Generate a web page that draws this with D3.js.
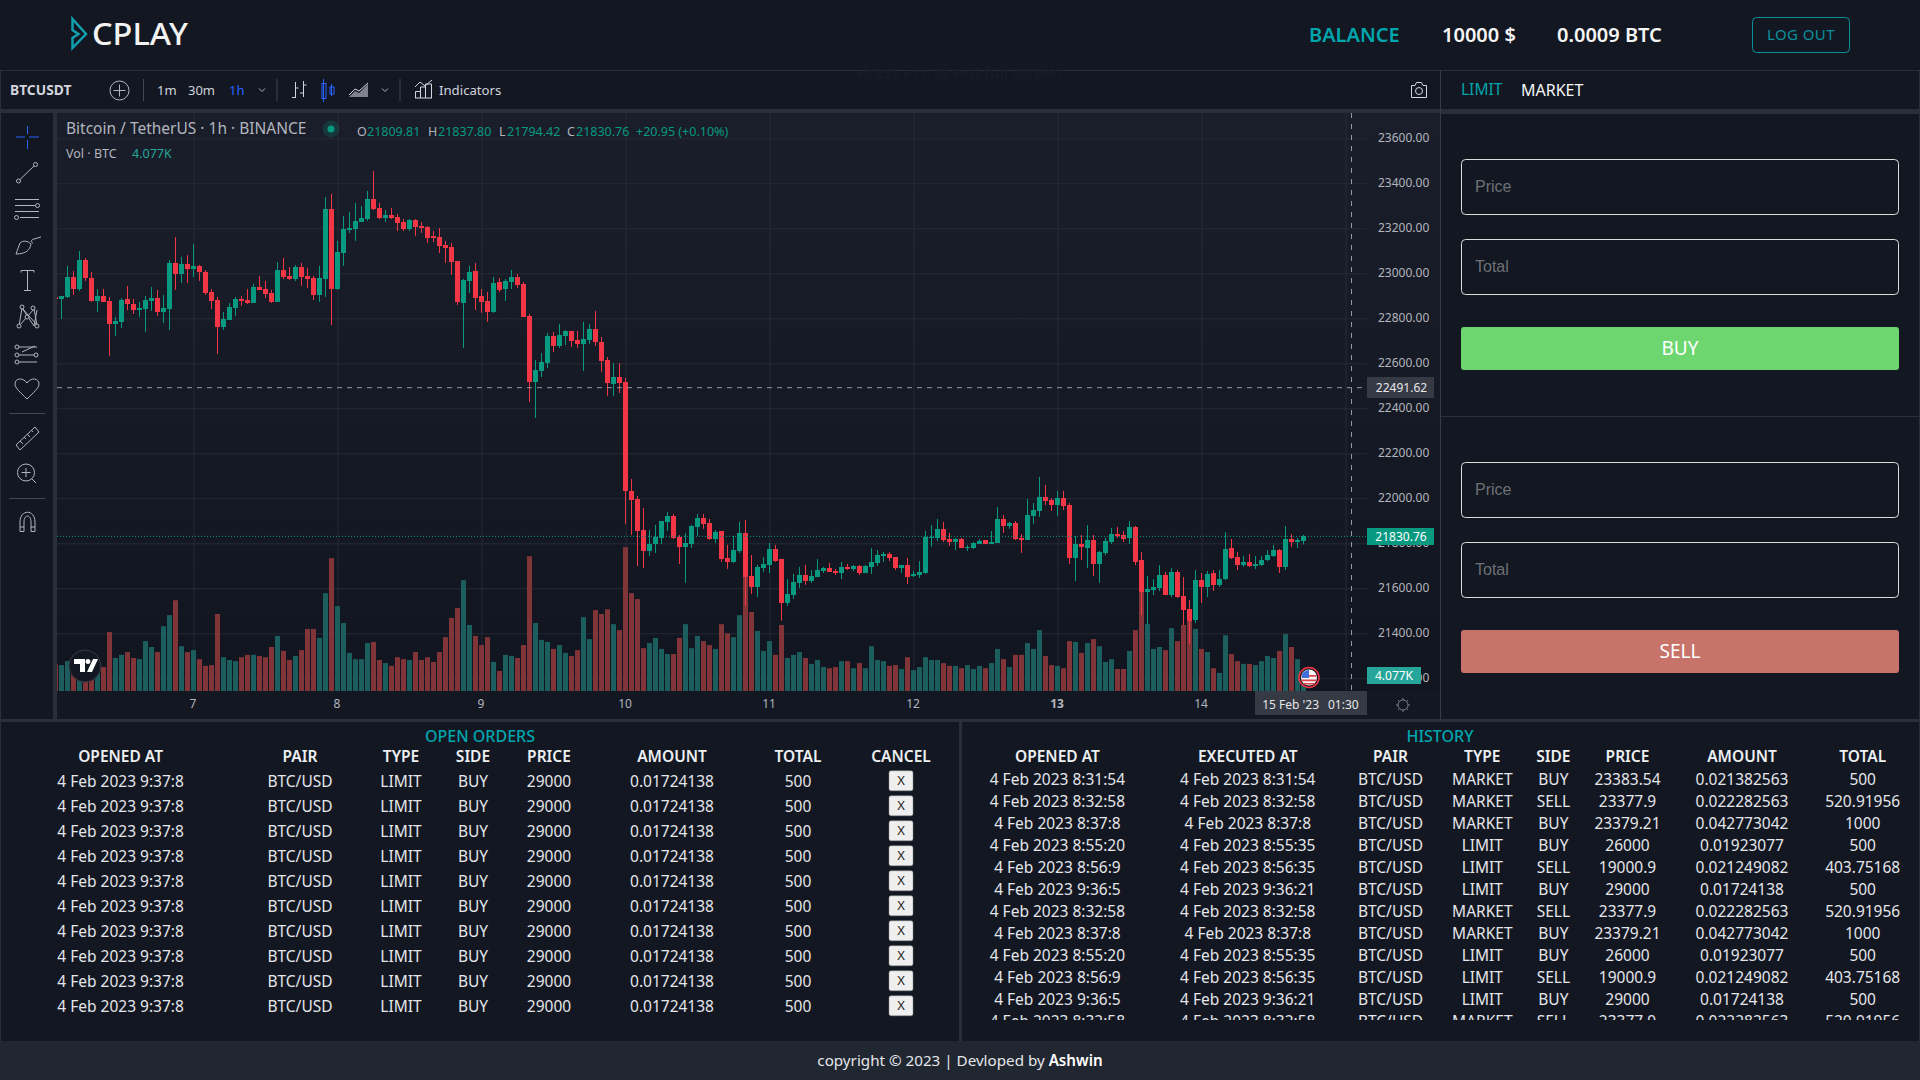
<!DOCTYPE html>
<html>
<head>
<meta charset="utf-8">
<title>CPLAY</title>
<script src="https://cdn.jsdelivr.net/npm/d3@7"></script>
<style>
  html, body { margin: 0; padding: 0; background: #131722; overflow: hidden; }
  svg { display: block; }
  text { font-family: "Noto Sans", sans-serif; }
</style>
</head>
<body>
<div id="canvas"></div>
<script>
// candles, one per hour
const opens = [
  22895,22886,22895,22984,22930,23059,22979,22877,22899,22877,
  22775,22784,22886,22864,22837,22841,22877,22890,22828,22841,
  23046,22997,23041,23019,23033,23006,22917,22881,22761,22793,
  22846,22886,22881,22868,22939,22930,22913,22873,23015,22988,
  22975,23028,22988,22979,22904,22975,23286,22930,23090,23193,
  23197,23228,23241,23330,23290,23246,23259,23250,23228,23197,
  23237,23210,23206,23166,23161,23126,23117,23055,22868,22966,
  23010,22899,22877,22828,22961,22930,22961,22984,22953,22810,
  22517,22566,22601,22721,22677,22721,22744,22704,22686,22704,
  22753,22695,22615,22508,22539,22517,22033,21997,21859,21766,
  21797,21824,21895,21921,21828,21784,21797,21873,21913,21890,
  21819,21855,21735,21717,21766,21846,21655,21606,21690,21704,
  21775,21730,21535,21570,21624,21659,21633,21650,21677,21690,
  21677,21668,21695,21686,21699,21668,21695,21713,21744,21753,
  21739,21690,21704,21655,21659,21668,21824,21824,21864,21819,
  21806,21819,21779,21779,21797,21815,21797,21801,21908,21877,
  21890,21824,21815,21921,21944,22006,21993,21970,22001,21970,
  21735,21797,21779,21815,21708,21757,21806,21841,21837,21824,
  21873,21726,21584,21593,21601,21659,21570,21673,21566,21508,
  21459,21637,21606,21668,21615,21641,21779,21739,21703,21717,
  21699,21703,21726,21744,21770,21695,21819,21806,21809.81
];
const highs = [
  22895,22899,23033,23010,23099,23068,23006,22930,22930,22895,
  22806,22890,22944,22886,22873,22899,22939,22926,22904,23059,
  23161,23073,23081,23130,23037,23015,22930,22895,22828,22868,
  22895,22899,22930,22953,22988,22966,22926,23050,23068,23028,
  23037,23046,23024,22988,23033,23339,23353,23144,23255,23273,
  23313,23299,23366,23455,23313,23281,23290,23264,23241,23241,
  23241,23228,23210,23188,23201,23144,23135,23055,22975,23033,
  23046,22930,22917,22984,22979,22975,23015,22997,22961,22819,
  22615,22646,22735,22739,22775,22748,22744,22744,22784,22775,
  22833,22717,22628,22601,22601,22535,22086,22010,21957,21859,
  21882,21899,21939,21930,21837,21846,21882,21930,21930,21908,
  21859,21855,21793,21833,21895,21904,21748,21704,21739,21802,
  21793,21730,21641,21664,21695,21704,21681,21730,21695,21713,
  21686,21717,21708,21704,21704,21704,21779,21770,21761,21761,
  21739,21704,21735,21677,21721,21855,21881,21908,21895,21846,
  21824,21824,21793,21806,21819,21815,21855,21961,21926,21895,
  21899,21841,21997,21979,22095,22059,22001,22033,22033,21979,
  21833,21837,21881,21837,21766,21824,21868,21873,21855,21899,
  21877,21761,21655,21641,21703,21673,21690,21681,21650,21548,
  21681,21668,21677,21681,21681,21850,21819,21761,21744,21753,
  21744,21744,21770,21793,21775,21877,21841,21824,21837.8
];
const lows = [
  22886,22797,22890,22904,22921,22966,22873,22828,22873,22633,
  22721,22757,22837,22819,22806,22739,22833,22810,22779,22748,
  22926,22957,22957,22984,22966,22904,22841,22641,22748,22793,
  22810,22855,22864,22868,22926,22890,22868,22873,22975,22970,
  22966,22944,22935,22881,22873,22895,22770,22926,23033,23179,
  23144,23228,23233,23281,23241,23228,23241,23188,23188,23188,
  23166,23179,23135,23139,23090,23046,22993,22859,22668,22913,
  22837,22824,22784,22824,22917,22877,22930,22935,22806,22428,
  22357,22539,22579,22650,22668,22681,22673,22668,22566,22686,
  22677,22561,22455,22455,22468,21886,21837,21699,21690,21744,
  21757,21797,21855,21819,21708,21624,21779,21833,21864,21815,
  21802,21717,21686,21713,21757,21522,21575,21561,21673,21668,
  21717,21456,21522,21553,21602,21615,21624,21650,21668,21673,
  21659,21641,21681,21677,21659,21668,21664,21699,21717,21721,
  21681,21668,21619,21650,21646,21664,21784,21810,21806,21788,
  21770,21779,21766,21775,21797,21797,21797,21801,21846,21864,
  21815,21757,21815,21886,21917,21970,21944,21921,21948,21708,
  21632,21726,21690,21655,21624,21748,21797,21824,21806,21797,
  21703,21481,21437,21570,21588,21570,21561,21557,21437,21353,
  21446,21535,21561,21588,21606,21637,21730,21681,21695,21695,
  21686,21699,21721,21739,21668,21681,21784,21779,21794.42
];
const closes = [
  22886,22899,22984,22930,23059,22979,22877,22899,22873,22775,
  22788,22881,22864,22837,22846,22881,22890,22828,22846,23046,
  22997,23041,23019,23033,23006,22913,22877,22761,22797,22850,
  22886,22877,22868,22939,22926,22908,22873,23015,22984,22975,
  23028,22984,22975,22904,22979,23286,22930,23095,23197,23201,
  23233,23246,23330,23286,23246,23259,23246,23224,23197,23237,
  23206,23201,23157,23157,23121,23113,23050,22873,22970,23006,
  22890,22873,22828,22957,22926,22966,22984,22948,22806,22517,
  22570,22606,22721,22677,22726,22744,22699,22686,22708,22753,
  22695,22610,22513,22539,22513,22033,21993,21855,21766,21797,
  21828,21899,21921,21824,21784,21802,21877,21913,21886,21819,
  21850,21730,21717,21770,21846,21650,21606,21695,21708,21775,
  21721,21535,21575,21628,21659,21633,21655,21681,21690,21673,
  21668,21695,21686,21699,21668,21699,21717,21748,21753,21735,
  21690,21704,21650,21664,21673,21828,21828,21864,21815,21806,
  21819,21779,21784,21801,21810,21797,21806,21908,21877,21890,
  21819,21815,21926,21948,22006,21988,21970,22001,21966,21735,
  21797,21784,21815,21708,21761,21810,21841,21833,21819,21873,
  21717,21584,21597,21606,21659,21570,21673,21561,21504,21455,
  21637,21606,21664,21615,21641,21775,21735,21703,21717,21699,
  21708,21726,21748,21770,21695,21819,21806,21815,21830.76
];
// volume in thousands of BTC
const volumes = [
  6.8,6.6,7.6,4.7,6.6,4.3,3.2,5.8,6.1,15.0,
  8.4,9.2,9.9,8.4,8.1,12.7,11.2,9.9,16.5,19.3,
  23.1,11.4,9.9,10.4,8.1,6.4,6.6,19.6,8.6,7.9,
  7.6,8.6,9.2,9.2,8.9,8.6,11.2,14.0,10.2,7.9,
  8.9,10.4,15.8,15.8,13.5,24.9,33.8,21.6,17.3,9.7,
  8.1,8.1,12.2,12.5,7.9,7.1,6.4,8.6,8.1,7.9,
  9.9,7.9,8.6,7.4,9.9,13.7,18.6,21.1,28.2,16.8,
  14.0,11.7,13.7,7.4,5.1,9.2,8.9,8.4,11.7,34.3,
  17.3,13.0,12.5,10.7,11.7,9.7,8.9,10.4,18.8,13.2,
  20.6,19.6,20.8,17.0,15.5,36.6,24.9,23.4,10.9,12.2,
  13.5,10.7,9.4,9.4,13.5,17.0,10.9,14.0,12.7,11.7,
  10.7,17.0,14.7,13.7,19.3,29.0,20.1,15.3,10.2,12.7,
  9.2,16.8,8.4,9.2,9.9,8.4,6.9,7.9,6.1,5.8,
  6.1,7.6,7.6,5.8,7.1,5.8,11.4,7.9,7.6,6.4,
  6.6,5.6,8.6,5.3,6.1,8.6,7.9,7.9,7.1,6.4,
  6.4,5.8,6.6,5.6,6.4,5.8,7.1,10.7,8.1,6.1,
  9.2,9.2,12.2,10.7,15.5,8.9,6.6,6.4,5.8,12.7,
  12.5,9.7,12.2,13.2,11.4,7.4,8.1,5.6,5.6,10.2,
  15.5,25.2,17.0,10.7,11.2,10.4,16.0,12.7,16.8,18.1,
  15.8,10.7,9.9,5.8,4.6,14.2,9.4,7.6,6.9,6.9,
  6.6,7.6,8.9,8.4,10.2,14.5,11.2,8.1,4.077
];

const priceTicks = [21200,21400,21600,21800,22000,22200,22400,22600,22800,23000,23200,23400,23600];
const dayIndex = [23,47,71,95,119,143,167,191,215];
const dayLabels = ['7','8','9','10','11','12','13','14',''];
const crosshairPrice = 22491.62;
const lastPrice = 21830.76;

const orderColumns = ['OPENED AT','PAIR','TYPE','SIDE','PRICE','AMOUNT','TOTAL'];
const orderRow = ['4 Feb 2023 9:37:8','BTC/USD','LIMIT','BUY','29000','0.01724138','500'];
const orderCount = 10;

const historyColumns = ['OPENED AT','EXECUTED AT','PAIR','TYPE','SIDE','PRICE','AMOUNT','TOTAL'];
const historyRows = [
  ['4 Feb 2023 8:31:54','4 Feb 2023 8:31:54','BTC/USD','MARKET','BUY','23383.54','0.021382563','500'],
  ['4 Feb 2023 8:32:58','4 Feb 2023 8:32:58','BTC/USD','MARKET','SELL','23377.9','0.022282563','520.91956'],
  ['4 Feb 2023 8:37:8','4 Feb 2023 8:37:8','BTC/USD','MARKET','BUY','23379.21','0.042773042','1000'],
  ['4 Feb 2023 8:55:20','4 Feb 2023 8:55:35','BTC/USD','LIMIT','BUY','26000','0.01923077','500'],
  ['4 Feb 2023 8:56:9','4 Feb 2023 8:56:35','BTC/USD','LIMIT','SELL','19000.9','0.021249082','403.75168'],
  ['4 Feb 2023 9:36:5','4 Feb 2023 9:36:21','BTC/USD','LIMIT','BUY','29000','0.01724138','500'],
  ['4 Feb 2023 8:32:58','4 Feb 2023 8:32:58','BTC/USD','MARKET','SELL','23377.9','0.022282563','520.91956'],
  ['4 Feb 2023 8:37:8','4 Feb 2023 8:37:8','BTC/USD','MARKET','BUY','23379.21','0.042773042','1000'],
  ['4 Feb 2023 8:55:20','4 Feb 2023 8:55:35','BTC/USD','LIMIT','BUY','26000','0.01923077','500'],
  ['4 Feb 2023 8:56:9','4 Feb 2023 8:56:35','BTC/USD','LIMIT','SELL','19000.9','0.021249082','403.75168'],
  ['4 Feb 2023 9:36:5','4 Feb 2023 9:36:21','BTC/USD','LIMIT','BUY','29000','0.01724138','500'],
  ['4 Feb 2023 8:32:58','4 Feb 2023 8:32:58','BTC/USD','MARKET','SELL','23377.9','0.022282563','520.91956']
];

const bg = '#131722', line = '#2a2e39', teal = '#00a6ad', soft = '#b2b5be';
const upColor = '#089981', downColor = '#f23645';

const svg = d3.select('#canvas').append('svg').attr('width', 1920).attr('height', 1080);
const defs = svg.append('defs');

const paneGrad = defs.append('linearGradient').attr('id', 'paneGrad').attr('x1', 0).attr('x2', 0).attr('y1', 0).attr('y2', 1);
paneGrad.append('stop').attr('offset', 0).attr('stop-color', '#1a1e2a');
paneGrad.append('stop').attr('offset', 1).attr('stop-color', '#11151f');
defs.append('clipPath').attr('id', 'paneClip').append('rect').attr('x', 57).attr('y', 113).attr('width', 1310).attr('height', 578);
defs.append('clipPath').attr('id', 'histClip').append('rect').attr('x', 962).attr('y', 722).attr('width', 958).attr('height', 298);

function rect(g, x, y, w, h, fill, extra) {
  const r = g.append('rect').attr('x', x).attr('y', y).attr('width', w).attr('height', h).attr('fill', fill);
  Object.entries(extra || {}).forEach(([k, v]) => r.attr(k, v));
  return r;
}
function label(g, x, y, str, size, color, extra) {
  const t = g.append('text').attr('x', x).attr('y', y).attr('dy', '0.35em')
    .attr('font-size', size).attr('fill', color).text(str);
  Object.entries(extra || {}).forEach(([k, v]) => t.attr(k, v));
  return t;
}
function icon(g, d, color, width) {
  return g.append('path').attr('d', d).attr('fill', 'none')
    .attr('stroke', color || soft).attr('stroke-width', width || 1);
}

// page background and panel frames
rect(svg, 0, 0, 1920, 1080, bg);
rect(svg, 0, 70, 1920, 1, line);
rect(svg, 0, 109, 1920, 4, line);
rect(svg, 53, 113, 4, 607, line);
rect(svg, 0, 719, 1920, 3, line);
rect(svg, 1440, 70, 1, 650, '#363a45');
rect(svg, 0, 70, 1, 1000, line);
rect(svg, 1919, 70, 1, 1000, line);
rect(svg, 959, 722, 3, 320, line);
rect(svg, 1441, 416, 479, 1, line);
rect(svg, 0, 1041, 1920, 39, '#212731');

// header
const header = svg.append('g');
header.append('path').attr('d', 'M72.5 19 L86 34 L72.5 48 V38 L78.5 34 L72.5 30 Z')
  .attr('fill', 'none').attr('stroke', '#12a0ac').attr('stroke-width', 2.5);
label(header, 92, 34.5, 'CPLAY', 31, '#f2f2f2', { 'font-weight': 500, textLength: 96, lengthAdjust: 'spacingAndGlyphs' });
label(header, 1309, 34.5, 'BALANCE', 20, teal, { 'font-weight': 600 });
label(header, 1442, 34.5, '10000 $', 20, '#f5f5f5', { 'font-weight': 600 });
label(header, 1557, 34.5, '0.0009 BTC', 20, '#f5f5f5', { 'font-weight': 600 });
rect(header, 1752.5, 17.5, 97, 35, 'none', { stroke: '#0b8f9a', rx: 4 });
label(header, 1801, 35, 'LOG OUT', 15, '#0b8f9a', { 'text-anchor': 'middle', 'letter-spacing': '0.4px' });
label(header, 960, 72, 'Press   F11   to exit full screen', 16, '#181c27', { 'text-anchor': 'middle' });

// chart toolbar
const bar = svg.append('g');
label(bar, 10, 90, 'BTCUSDT', 13.8, '#d1d4dc', { 'font-weight': 700 });
bar.append('circle').attr('cx', 119.5).attr('cy', 90.5).attr('r', 9.5).attr('fill', 'none').attr('stroke', soft);
icon(bar, 'M113.5 90.5H125.5M119.5 84.5V96.5', soft);
[143, 276.5, 399.5].forEach(x => rect(bar, x, 79, 1, 22, '#434651'));
label(bar, 157, 90, '1m', 13, '#d1d4dc');
label(bar, 188, 90, '30m', 13, '#d1d4dc');
label(bar, 229, 90, '1h', 13, '#2962ff');
icon(bar, 'M259 88.5L262 91.5L265 88.5', soft);
icon(bar, 'M382 88.5L385 91.5L388 88.5', soft);
icon(bar, 'M295.5 82V98M292 97.5H295.5M295.5 88H298.5M303.5 81V97M300 93H303.5M303.5 85H306.5', '#d1d4dc');
icon(bar, 'M323.5 79V102M331.5 84V96', '#2962ff');
rect(bar, 322, 83.5, 4, 15, 'none', { stroke: '#2962ff' });
rect(bar, 330, 87, 4, 7, 'none', { stroke: '#2962ff' });
bar.append('path').attr('d', 'M349 97L355 91L359 93L368 84V97Z').attr('fill', '#7f828c');
icon(bar, 'M349 95L355 89L359 91L368 83', '#d1d4dc');
icon(bar, 'M415.5 98V91.5H420.5V98M420.5 98V87H425.5V98M425.5 98V84H431.5V98M415 98H432M415 87L420 82L425 86L432 80', '#d1d4dc');
label(bar, 439, 90, 'Indicators', 13.2, '#d1d4dc');
icon(bar, 'M1411.5 85.5H1415L1416.5 82.5H1421.5L1423 85.5H1426.5V97.5H1411.5Z', '#d1d4dc');
bar.append('circle').attr('cx', 1419).attr('cy', 91).attr('r', 3.5).attr('fill', 'none').attr('stroke', '#d1d4dc');

// drawing tools on the left
const tools = svg.append('g');
icon(tools, 'M16 137H25M29 137H39M27.5 126V134M27.5 140V149', '#2962ff');
icon(tools, 'M20 179.5L34 166', soft);
tools.append('circle').attr('cx', 18.5).attr('cy', 181).attr('r', 2).attr('fill', 'none').attr('stroke', soft);
tools.append('circle').attr('cx', 35.5).attr('cy', 164.5).attr('r', 2).attr('fill', 'none').attr('stroke', soft);
icon(tools, 'M15 199.5H39M15 205.5H35M15 211.5H39M20 217.5H39', soft);
tools.append('circle').attr('cx', 37.5).attr('cy', 205.5).attr('r', 2).attr('fill', 'none').attr('stroke', soft);
tools.append('circle').attr('cx', 16.5).attr('cy', 217.5).attr('r', 2).attr('fill', 'none').attr('stroke', soft);
icon(tools, 'M16 254L20 243C23 240 28 241 31 244C30 250 26 254 16 254ZM33 243C30 242 31 240 34 239L41 237', soft);
icon(tools, 'M21 272.5V270.5H34V272.5M27.5 270.5V290M24 290.5H31', soft);
icon(tools, 'M19 326L22 308L34 326L37 310M19 326L34 309L37 325M22 308L37 325', soft);
[[22,307],[33,308],[19,326],[37,326],[27,317]].forEach(p => tools.append('circle').attr('cx', p[0]).attr('cy', p[1]).attr('r', 2).attr('fill', bg).attr('stroke', soft));
icon(tools, 'M18 347H37M18 355H37M18 362H37M22 352L35 346', soft);
[[17,347],[17,355],[17,362],[36,355]].forEach(p => tools.append('circle').attr('cx', p[0]).attr('cy', p[1]).attr('r', 2).attr('fill', bg).attr('stroke', soft));
icon(tools, 'M27 399C20 392 15 388 15 384C15 378 23 377 27 383C31 377 39 378 39 384C39 388 34 392 27 399Z', soft);
rect(tools, 9, 413, 36, 1, '#434651');
icon(tools, 'M16 445L35 427L39 432L20 450ZM20 441L23 444M24 437L26 439M27 434L30 437M31 430L33 432', soft);
tools.append('circle').attr('cx', 26).attr('cy', 472.5).attr('r', 8.5).attr('fill', 'none').attr('stroke', soft);
icon(tools, 'M21.5 472.5H30.5M26 468V477M32 479L36 483', soft);
rect(tools, 9, 498, 36, 1, '#434651');
icon(tools, 'M20 531.5V522C20 509 35 509 35 522V531.5M24 531.5V522C24 514 31 514 31 522V531.5M20 527H24M31 527H35M20 531.5H24M31 531.5H35', soft);

// chart scales
const x = d3.scaleLinear().domain([0, 208]).range([55.5, 1303.5]);
const y = d3.scaleLinear().domain([21200, 23600]).range([678.3, 138.3]);
const yVol = d3.scaleLinear().domain([0, 40]).range([691, 533.8]);
const candles = opens.map((o, i) => ({ i: i, o: o, h: highs[i], l: lows[i], c: closes[i], v: volumes[i] }));

rect(svg, 57, 113, 1383, 578, 'url(#paneGrad)');
rect(svg, 1441, 113, 479, 1, line);

const pane = svg.append('g').attr('clip-path', 'url(#paneClip)');

// grid, drawn from the axis generators
pane.append('g').attr('transform', 'translate(57,0)')
  .call(d3.axisLeft(y).tickValues(priceTicks).tickSize(-1310).tickFormat(''))
  .call(g => g.select('.domain').remove())
  .selectAll('line').attr('stroke', line).attr('stroke-width', 1).attr('opacity', 0.85);
pane.append('g').attr('transform', 'translate(0,691)')
  .call(d3.axisBottom(x).tickValues(dayIndex).tickSize(-578).tickFormat(''))
  .call(g => g.select('.domain').remove())
  .selectAll('line').attr('stroke', line).attr('stroke-width', 1).attr('opacity', 0.85);

pane.selectAll('.vol').data(candles).join('rect').attr('class', 'vol')
  .attr('x', d => x(d.i) - 2.5)
  .attr('width', 5)
  .attr('y', d => yVol(d.v))
  .attr('height', d => 691 - yVol(d.v))
  .attr('fill', d => d.c >= d.o ? '#1c5e5e' : '#813538');

pane.selectAll('.wick').data(candles).join('line').attr('class', 'wick')
  .attr('x1', d => x(d.i)).attr('x2', d => x(d.i))
  .attr('y1', d => y(d.h)).attr('y2', d => y(d.l))
  .attr('stroke', d => d.c >= d.o ? upColor : downColor);

pane.selectAll('.body').data(candles).join('rect').attr('class', 'body')
  .attr('x', d => x(d.i) - 2.5)
  .attr('width', 5)
  .attr('y', d => y(Math.max(d.o, d.c)))
  .attr('height', d => Math.max(1, Math.abs(y(d.o) - y(d.c))))
  .attr('fill', d => d.c >= d.o ? upColor : downColor)
  .attr('shape-rendering', 'crispEdges');

// last price and crosshair lines
pane.append('line').attr('x1', 57).attr('x2', 1367).attr('y1', y(lastPrice)).attr('y2', y(lastPrice))
  .attr('stroke', upColor).attr('stroke-dasharray', '1 2');
pane.append('line').attr('x1', 57).attr('x2', 1367).attr('y1', y(crosshairPrice)).attr('y2', y(crosshairPrice))
  .attr('stroke', '#9598a1').attr('stroke-dasharray', '5 5');
pane.append('line').attr('x1', 1351.5).attr('x2', 1351.5).attr('y1', 113).attr('y2', 691)
  .attr('stroke', '#9598a1').attr('stroke-dasharray', '5 6');

// axis labels
const priceAxis = svg.append('g').attr('transform', 'translate(1367,0)')
  .call(d3.axisRight(y).tickValues(priceTicks).tickSize(0).tickPadding(11).tickFormat(d3.format('.2f')));
priceAxis.select('.domain').remove();
priceAxis.selectAll('text').attr('fill', soft).attr('font-size', 12).attr('dy', '0.24em')
  .attr('font-family', '"Noto Sans", sans-serif');

const timeAxis = svg.append('g').attr('transform', 'translate(-1,691)')
  .call(d3.axisBottom(x).tickValues(dayIndex).tickSize(0).tickPadding(8).tickFormat((d, i) => dayLabels[i]));
timeAxis.select('.domain').remove();
timeAxis.selectAll('text').attr('fill', soft).attr('font-size', 12).attr('font-family', '"Noto Sans", sans-serif')
  .attr('font-weight', (d, i) => dayLabels[i] === '13' ? 700 : 400);

rect(svg, 1367, 377, 67, 21, '#363a45');
label(svg, 1401.5, 387.5, d3.format('.2f')(crosshairPrice), 12, '#e6e7ea', { 'text-anchor': 'middle' });
rect(svg, 1367, 528, 67, 17, upColor);
label(svg, 1401, 536.5, d3.format('.2f')(lastPrice), 12, '#ffffff', { 'text-anchor': 'middle' });
rect(svg, 1367, 667, 54, 17, '#26a69a');
label(svg, 1394, 675.5, '4.077K', 12, '#ffffff', { 'text-anchor': 'middle' });
rect(svg, 1255, 691, 112, 24, '#363a45');
label(svg, 1319, 705, "15 Feb '23", 12, '#e6e7ea', { 'text-anchor': 'end' });
label(svg, 1328, 705, '01:30', 12, '#e6e7ea');
svg.append('circle').attr('cx', 1403).attr('cy', 705).attr('r', 5).attr('fill', 'none').attr('stroke', '#787b86');
icon(svg, 'M1403 698V700M1403 710V712M1396 705H1398M1408 705H1410M1398 700L1399.5 701.5M1406.5 708.5L1408 710M1398 710L1399.5 708.5M1406.5 701.5L1408 700', '#787b86');

// legend
const legend = svg.append('g');
label(legend, 66, 129, 'Bitcoin / TetherUS · 1h · BINANCE', 15.5, soft);
legend.append('circle').attr('cx', 331).attr('cy', 129).attr('r', 8.5).attr('fill', upColor).attr('opacity', 0.2);
legend.append('circle').attr('cx', 331).attr('cy', 129).attr('r', 3.5).attr('fill', upColor);
[['O', 357, '21809.81', 367], ['H', 428, '21837.80', 438], ['L', 499, '21794.42', 507], ['C', 567, '21830.76', 576]].forEach(r => {
  label(legend, r[1], 132, r[0], 12.5, soft);
  label(legend, r[3], 132, r[2], 12.5, upColor);
});
label(legend, 636, 132, '+20.95 (+0.10%)', 12.5, upColor);
label(legend, 66, 153.5, 'Vol · BTC', 12.5, soft);
label(legend, 132, 153.5, '4.077K', 12.5, '#26a69a');

// tradingview badge and flag
svg.append('circle').attr('cx', 85).attr('cy', 666).attr('r', 16).attr('fill', bg).attr('stroke', '#363a45');
svg.append('path').attr('d', 'M74 659H85V672H80V664H74ZM88 659A2.5 2.5 0 1 1 87.9 659ZM93 659H98L92 672H87Z').attr('fill', '#ffffff');
svg.append('circle').attr('cx', 1309).attr('cy', 677.5).attr('r', 10).attr('fill', bg).attr('stroke', downColor).attr('stroke-width', 1.5);
svg.append('circle').attr('cx', 1309).attr('cy', 677.5).attr('r', 8).attr('fill', '#f5f5f5');
svg.append('path').attr('d', 'M1301.5 675H1316.5V676.8H1301.5ZM1301.5 679.5H1316.5V681.3H1301.5ZM1303.5 683H1314.5V684.5H1303.5Z').attr('fill', '#e2434b');
svg.append('path').attr('d', 'M1302 678V674.5C1303 671.5 1306 670 1309 670V678Z').attr('fill', '#3c6fd8');

// order form
const form = svg.append('g');
label(form, 1461, 90, 'LIMIT', 15.5, teal);
label(form, 1521, 90, 'MARKET', 16, '#f5f5f5');
[[159.5, 'Price'], [239.5, 'Total'], [462.5, 'Price'], [542.5, 'Total']].forEach(r => {
  rect(form, 1461.5, r[0], 437, 55, bg, { stroke: '#dcdcdc', rx: 4 });
  label(form, 1475, r[0] + 27, r[1], 16, '#6d7075', { style: 'font-family:"Liberation Sans",sans-serif' });
});
rect(form, 1461, 327, 438, 43, '#6dd66f', { rx: 3 });
label(form, 1680, 348, 'BUY', 19, '#ffffff', { 'text-anchor': 'middle' });
rect(form, 1461, 630, 438, 43, '#c8736a', { rx: 3 });
label(form, 1680, 651, 'SELL', 19, '#ffffff', { 'text-anchor': 'middle' });

// open orders table
const orderX = [120.6, 300, 401, 473, 549, 672, 798];
const orderY = d3.range(orderCount).map(i => 781.3 + 25 * i);
const orders = svg.append('g').attr('text-anchor', 'middle');
label(orders, 480, 736.5, 'OPEN ORDERS', 16, teal, { 'font-weight': 500 });
orderColumns.forEach((c, i) => label(orders, orderX[i], 756.5, c, 15.5, '#eceff1', { 'font-weight': 600 }));
label(orders, 901, 756.5, 'CANCEL', 15.5, '#eceff1', { 'font-weight': 600 });
orderY.forEach(ry => {
  orderRow.forEach((v, i) => label(orders, orderX[i], ry, v, 15.5, '#e4e6ea'));
  rect(orders, 889, ry - 10.5, 24, 20, '#efefef', { stroke: '#8a8a8a', 'stroke-width': 0.5, rx: 2 });
  label(orders, 901, ry - 0.5, 'X', 13, '#222222');
});

// history table, last row is cut off by the scroll area
const histX = [1057.4, 1247.8, 1390.5, 1482.3, 1553.4, 1627.5, 1742, 1862.7];
const history = svg.append('g').attr('text-anchor', 'middle');
label(history, 1440, 736.5, 'HISTORY', 16, teal, { 'font-weight': 500 });
historyColumns.forEach((c, i) => label(history, histX[i], 756.5, c, 15.5, '#eceff1', { 'font-weight': 600 }));
const histBody = history.append('g').attr('clip-path', 'url(#histClip)');
historyRows.forEach((row, r) => {
  row.forEach((v, i) => label(histBody, histX[i], 779.3 + 22 * r, v, 15.5, '#e4e6ea'));
});

// footer
const foot = label(svg, 960, 1061, '', 15.2, '#e4e6ea', { 'text-anchor': 'middle' });
foot.append('tspan').text('copyright © 2023 | Devloped by ');
foot.append('tspan').attr('font-weight', 600).attr('fill', '#ffffff').text('Ashwin');
</script>
</body>
</html>
